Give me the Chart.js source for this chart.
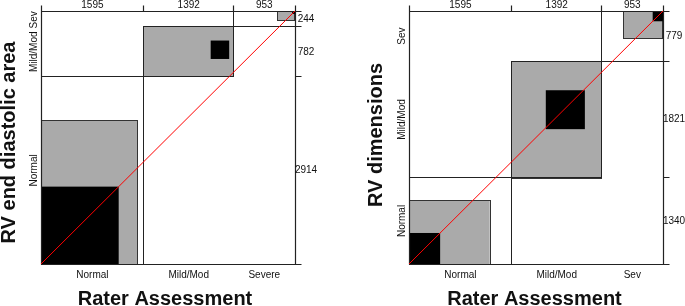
<!DOCTYPE html>
<html><head><meta charset="utf-8">
<script src="https://cdn.jsdelivr.net/npm/chart.js@4.4.1/dist/chart.umd.min.js"></script>
<style>
html,body{margin:0;padding:0;background:#fff;}
#wrap{position:relative;width:685px;height:306px;overflow:hidden;background:#fff;}
.box{position:absolute;top:0;height:306px;}
</style></head><body>
<div id="wrap">
<div class="box" style="left:0;width:342px"><canvas id="c1" width="342" height="306"></canvas></div>
<div class="box" style="left:342px;width:343px"><canvas id="c2" width="343" height="306"></canvas></div>
</div>
<script>
// ---------- data ----------
const N = 3940;
// Rater assessment (x axis, both panels)
const raterTotals = [1595, 1392, 953];
const raterLabels1 = ['Normal', 'Mild/Mod', 'Severe'];
const raterLabels2 = ['Normal', 'Mild/Mod', 'Sev'];

// Panel 1: RV end diastolic area
const edaLabels = ['Normal', 'Mild/Mod', 'Sev'];
const edaTotals = [2914, 782, 244];
const edaGrayX0 = [0, 1595, 3671];
const edaGrayX1 = [1494, 2987, 3940];
const edaGrayY0 = [0, 2914, 3800];
const edaGrayY1 = [2238, 3696, 3940];
const edaDiag   = [1205, 287, 45];
const edaDiagX0 = [0, 2632, 3895];
const edaDiagY0 = [0, 3193, 3895];

// Panel 2: RV dimensions
const dimLabels = ['Normal', 'Mild/Mod', 'Sev'];
const dimTotals = [1340, 1821, 779];
const dimGrayX0 = [0, 1595, 3335];
const dimGrayX1 = [1252, 2987, 3940];
const dimGrayY0 = [0, 1340, 3520];
const dimGrayY1 = [992, 3161, 3940];
const dimDiag   = [483, 606, 160];
const dimDiagX0 = [0, 2122, 3780];
const dimDiagY0 = [0, 2100, 3780];

// ---------- helpers ----------
function cum(a){ const r=[0]; a.forEach(v=>r.push(r[r.length-1]+v)); return r; }
const SMALL = '10px "Liberation Sans", Arial, Helvetica, sans-serif';
const BIG = 'bold 20px "Liberation Sans", Arial, Helvetica, sans-serif';
const snap = v => Math.round(v - 0.5) + 0.5;

function text(ctx, s, x, y, font, align, base, rot){
  ctx.save();
  ctx.translate(x, y);
  if (rot) ctx.rotate(rot);
  ctx.font = font; ctx.fillStyle = '#111';
  ctx.textAlign = align; ctx.textBaseline = base;
  ctx.fillText(s, 0, 0);
  ctx.restore();
}

function agreementPlugin(p){
  return {
    id: 'agree',
    beforeDatasetsDraw(chart){
      const ctx = chart.ctx, X = chart.scales.x, Y = chart.scales.y;
      const px = v => X.getPixelForValue(v), py = v => Y.getPixelForValue(v);
      const xc = cum(p.colTotals), yc = cum(p.rowTotals);
      ctx.save();
      // partial agreement (gray)
      for (let i = 0; i < 3; i++){
        const x0 = px(p.gx0[i]), x1 = px(p.gx1[i]), y0 = py(p.gy0[i]), y1 = py(p.gy1[i]);
        ctx.fillStyle = '#aaaaaa';
        ctx.fillRect(x0, y1, x1 - x0, y0 - y1);
        ctx.strokeStyle = '#333'; ctx.lineWidth = 1;
        ctx.strokeRect(snap(x0), snap(y1), Math.round(x1 - x0), Math.round(y0 - y1));
      }
      // exact agreement (black)
      for (let i = 0; i < 3; i++){
        const x0 = px(p.dx0[i]), x1 = px(p.dx0[i] + p.d[i]);
        const y0 = py(p.dy0[i]), y1 = py(p.dy0[i] + p.d[i]);
        ctx.fillStyle = '#000';
        ctx.fillRect(x0, y1, x1 - x0, y0 - y1);
      }
      // category boxes
      ctx.strokeStyle = '#222'; ctx.lineWidth = 1;
      for (let i = 0; i < 3; i++){
        const x0 = snap(px(xc[i])), x1 = snap(px(xc[i+1]));
        const y0 = snap(py(yc[i])), y1 = snap(py(yc[i+1]));
        ctx.strokeRect(x0, y1, x1 - x0, y0 - y1);
      }
      // frame, top ticks, right ticks
      const L = snap(px(0)), R = snap(px(N)), T = snap(py(N)), B = snap(py(0));
      ctx.lineWidth = 1.2; ctx.strokeStyle = '#222';
      ctx.beginPath();
      ctx.moveTo(L, B); ctx.lineTo(L, T); ctx.lineTo(R, T); ctx.lineTo(R, B); ctx.lineTo(L, B);
      xc.forEach(v => { const x = snap(px(v)); ctx.moveTo(x, T); ctx.lineTo(x, T - 6); });
      yc.forEach(v => { const y = snap(py(v)); ctx.moveTo(R, y); ctx.lineTo(R + 6, y); });
      ctx.stroke();
      ctx.restore();
    },
    afterDraw(chart){
      const ctx = chart.ctx, X = chart.scales.x, Y = chart.scales.y, a = chart.chartArea;
      const px = v => X.getPixelForValue(v), py = v => Y.getPixelForValue(v);
      const xc = cum(p.colTotals), yc = cum(p.rowTotals);
      for (let i = 0; i < 3; i++){
        const cx = (px(xc[i]) + px(xc[i+1])) / 2;
        const cy = (py(yc[i]) + py(yc[i+1])) / 2;
        text(ctx, String(p.colTotals[i]), cx, a.top - 3, SMALL, 'center', 'alphabetic');
        text(ctx, p.colLabels[i], cx, a.bottom + 11, SMALL, 'center', 'middle');
        text(ctx, String(p.rowTotals[i]), a.right + 11, cy, SMALL, 'center', 'middle');
        text(ctx, p.rowLabels[i], a.left - 7, cy + (p.rowShift[i] || 0), SMALL, 'center', 'middle', -Math.PI/2);
      }
      text(ctx, 'Rater Assessment', (a.left + a.right) / 2 + p.xtDx, 304.5, BIG, 'center', 'alphabetic');
      text(ctx, p.yTitle, a.left + p.ytDx, (a.top + a.bottom) / 2 + p.ytDy, BIG, 'center', 'alphabetic', -Math.PI/2);
    }
  };
}

function makeChart(id, p, pad){
  new Chart(document.getElementById(id), {
    type: 'scatter',
    data: { datasets: [{
      data: [{x: 0, y: 0}, {x: N, y: N}],
      showLine: true, borderColor: '#ff0000', borderWidth: 1,
      pointRadius: 0, pointHoverRadius: 0, fill: false
    }]},
    options: {
      responsive: false, animation: false, devicePixelRatio: 1,
      events: [],
      layout: { padding: pad },
      plugins: { legend: { display: false }, tooltip: { enabled: false }, title: { display: false } },
      scales: {
        x: { type: 'linear', min: 0, max: N, display: false },
        y: { type: 'linear', min: 0, max: N, display: false }
      }
    },
    plugins: [agreementPlugin(p)]
  });
}

makeChart('c1', {
  colTotals: raterTotals, rowTotals: edaTotals, colLabels: raterLabels1, rowLabels: edaLabels,
  gx0: edaGrayX0, gx1: edaGrayX1, gy0: edaGrayY0, gy1: edaGrayY1,
  d: edaDiag, dx0: edaDiagX0, dy0: edaDiagY0,
  rowShift: [0, 0, 1], yTitle: 'RV end diastolic area', xtDx: -3, ytDx: -26, ytDy: 5
}, { left: 41, top: 11, right: 47, bottom: 42 });

makeChart('c2', {
  colTotals: raterTotals, rowTotals: dimTotals, colLabels: raterLabels2, rowLabels: dimLabels,
  gx0: dimGrayX0, gx1: dimGrayX1, gy0: dimGrayY0, gy1: dimGrayY1,
  d: dimDiag, dx0: dimDiagX0, dy0: dimDiagY0,
  rowShift: [0, 0, 0], yTitle: 'RV dimensions', xtDx: -1.5, ytDx: -27.5, ytDy: -2.5
}, { left: 67, top: 11, right: 22, bottom: 42 });
</script>
</body></html>
